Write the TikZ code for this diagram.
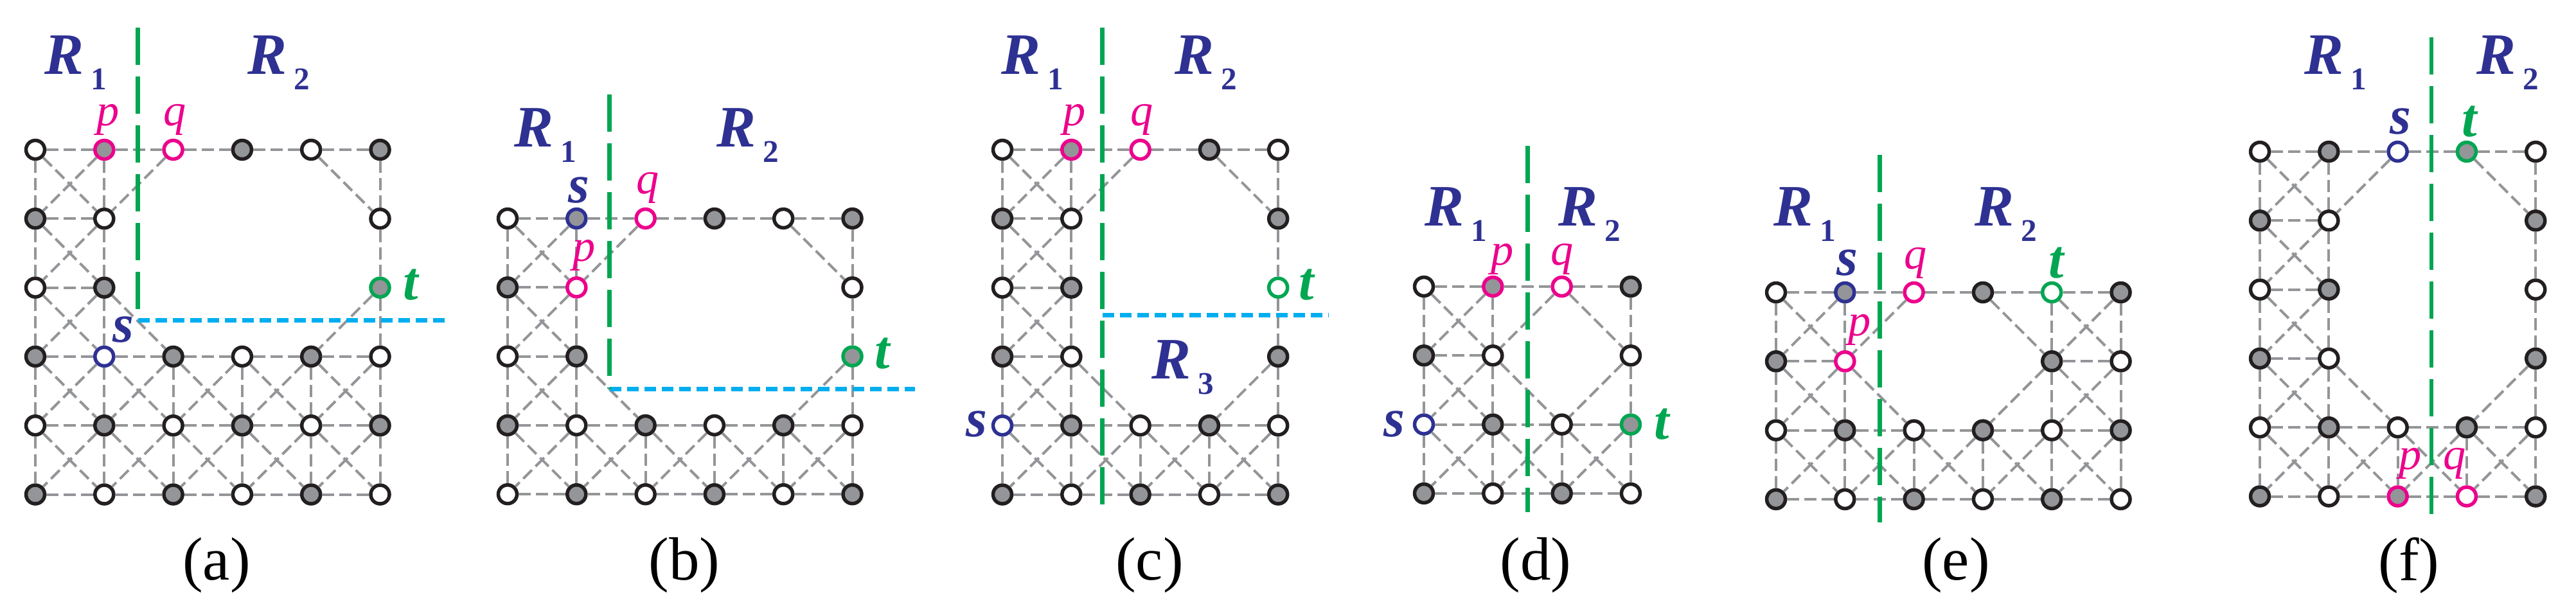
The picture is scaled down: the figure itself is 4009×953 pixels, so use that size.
\documentclass[tikz,border=0pt]{standalone}
\usepackage{fontspec}
\setmainfont{Liberation Serif}
\newfontfamily\ser{Liberation Serif}
\definecolor{navy}{HTML}{2E3192}
\definecolor{mag}{HTML}{EC008C}
\definecolor{grn}{HTML}{00A651}
\definecolor{blu}{HTML}{2E3192}
\definecolor{cyanline}{HTML}{00AEEF}
\definecolor{edgegray}{HTML}{939598}
\definecolor{nodegray}{HTML}{939598}
\definecolor{nodeblack}{HTML}{231F20}
\tikzset{
  vx/.style={circle,line width=0.055cm,minimum size=0.29cm,inner sep=0pt},
  edge/.style={draw=edgegray,line width=0.04cm,dash pattern=on 0.19cm off 0.08cm},
  cut/.style={draw=grn,line width=0.065cm,dash pattern=on 0.58cm off 0.18cm},
  cut2/.style={draw=cyanline,line width=0.07cm,dash pattern=on 0.18cm off 0.09cm},
  rlab/.style={text=navy,font=\ser\fontsize{26}{26}\selectfont\bfseries\itshape,anchor=base west,inner sep=0pt},
  plab/.style={text=mag,font=\ser\fontsize{20}{20}\selectfont\itshape,inner sep=0pt},
  slab/.style={text=navy,font=\ser\fontsize{24}{24}\selectfont\bfseries\itshape,inner sep=0pt},
  tlab/.style={text=grn,font=\ser\fontsize{24}{24}\selectfont\bfseries\itshape,inner sep=0pt},
  caplab/.style={font=\ser\fontsize{27}{27}\selectfont,inner sep=0pt},
}
\newcommand\Rsub[1]{R\kern3pt\raisebox{-7pt}{\fontsize{14}{14}\selectfont\upshape\bfseries #1}}
\newcommand\mkpanel[4]{%
  \foreach \cc/\rr/\kk in {#4}{%
    \pgfmathtruncatemacro\pp{mod(\cc+\rr,2)}%
    \ifnum\pp=1 \def\fc{nodegray}\else\def\fc{white}\fi
    \edef\tmp{\kk}\def\nn{n}%
    \ifx\tmp\nn\def\bc{nodeblack}\else\edef\bc{\kk}\fi
    \node[vx,draw=\bc,fill=\fc] (#1-\cc-\rr) at ({#2+\cc*107.3},{#3+\rr*107.3}) {};
    \expandafter\xdef\csname has#1-\cc-\rr\endcsname{1}%
  }%
  \foreach \cc/\rr/\kk in {#4}{%
    \foreach \dc/\dr in {1/0,0/1,1/1,-1/1}{%
      \pgfmathtruncatemacro\nc{\cc+\dc}%
      \pgfmathtruncatemacro\nr{\rr+\dr}%
      \ifcsname has#1-\nc-\nr\endcsname
        \draw[edge] (#1-\cc-\rr) -- (#1-\nc-\nr);
      \fi
    }%
  }%
}
\begin{document}
\begin{tikzpicture}[x=0.01cm,y=-0.01cm]
\useasboundingbox (0,0) rectangle (4009,953);
% (a)
\mkpanel{a}{55}{233}{0/0/n,1/0/mag,2/0/mag,3/0/n,4/0/n,5/0/n,
 0/1/n,1/1/n,5/1/n, 0/2/n,1/2/n,5/2/grn,
 0/3/n,1/3/blu,2/3/n,3/3/n,4/3/n,5/3/n,
 0/4/n,1/4/n,2/4/n,3/4/n,4/4/n,5/4/n,
 0/5/n,1/5/n,2/5/n,3/5/n,4/5/n,5/5/n}
% (b)
\mkpanel{b}{790}{340}{0/0/n,1/0/blu,2/0/mag,3/0/n,4/0/n,5/0/n,
 0/1/n,1/1/mag,5/1/n, 0/2/n,1/2/n,5/2/grn,
 0/3/n,1/3/n,2/3/n,3/3/n,4/3/n,5/3/n,
 0/4/n,1/4/n,2/4/n,3/4/n,4/4/n,5/4/n}
% (c)
\mkpanel{c}{1560}{233}{0/0/n,1/0/mag,2/0/mag,3/0/n,4/0/n,
 0/1/n,1/1/n,4/1/n, 0/2/n,1/2/n,4/2/grn, 0/3/n,1/3/n,4/3/n,
 0/4/blu,1/4/n,2/4/n,3/4/n,4/4/n,
 0/5/n,1/5/n,2/5/n,3/5/n,4/5/n}
% (d)
\mkpanel{d}{2216}{446}{0/0/n,1/0/mag,2/0/mag,3/0/n,
 0/1/n,1/1/n,3/1/n, 0/2/blu,1/2/n,2/2/n,3/2/grn,
 0/3/n,1/3/n,2/3/n,3/3/n}
% (e)
\mkpanel{e}{2764}{455}{0/0/n,1/0/blu,2/0/mag,3/0/n,4/0/grn,5/0/n,
 0/1/n,1/1/mag,4/1/n,5/1/n,
 0/2/n,1/2/n,2/2/n,3/2/n,4/2/n,5/2/n,
 0/3/n,1/3/n,2/3/n,3/3/n,4/3/n,5/3/n}
% (f)
\mkpanel{f}{3517}{236}{0/0/n,1/0/n,2/0/blu,3/0/grn,4/0/n,
 0/1/n,1/1/n,4/1/n, 0/2/n,1/2/n,4/2/n, 0/3/n,1/3/n,4/3/n,
 0/4/n,1/4/n,2/4/n,3/4/n,4/4/n,
 0/5/n,1/5/n,2/5/mag,3/5/mag,4/5/n}
% cut lines
\coordinate (ga1) at (214.6,43); \coordinate (ga2) at (214.6,498); \coordinate (ba2) at (694,498);
\draw[cut2] (ga2) -- (ba2); \draw[cut] (ga1) -- (ga2);
\coordinate (gb1) at (948.6,147); \coordinate (gb2) at (948.6,605); \coordinate (bb2) at (1423.5,605);
\draw[cut2] (gb2) -- (bb2); \draw[cut] (gb1) -- (gb2);
\coordinate (gc1) at (1715.6,43); \coordinate (gc2) at (1715.6,800);
\coordinate (bc1) at (1715.6,490.5); \coordinate (bc2) at (2068,490.5);
\draw[cut2] (bc1) -- (bc2); \draw[cut] (gc1) -- (gc2);
\coordinate (gd1) at (2377.7,227); \coordinate (gd2) at (2377.7,797); \draw[cut] (gd1) -- (gd2);
\coordinate (ge1) at (2925.4,241); \coordinate (ge2) at (2925.4,812.5); \draw[cut] (ge1) -- (ge2);
\coordinate (gf1) at (3783.7,58); \coordinate (gf2) at (3783.7,815.5); \draw[cut] (gf1) -- (gf2);
% region labels
\node[rlab] (aR1) at (69,115) {\Rsub1};
\node[rlab] (aR2) at (385,115) {\Rsub2};
\node[rlab] (bR1) at (800,228) {\Rsub1};
\node[rlab] (bR2) at (1115,228) {\Rsub2};
\node[rlab] (cR1) at (1558,115) {\Rsub1};
\node[rlab] (cR2) at (1828,115) {\Rsub2};
\node[rlab] (cR3) at (1792,589) {\Rsub3};
\node[rlab] (dR1) at (2217,351) {\Rsub1};
\node[rlab] (dR2) at (2425,351) {\Rsub2};
\node[rlab] (eR1) at (2760,351) {\Rsub1};
\node[rlab] (eR2) at (3073,351) {\Rsub2};
\node[rlab] (fR1) at (3586,115) {\Rsub1};
\node[rlab] (fR2) at (3854,115) {\Rsub2};
% vertex labels
\node[plab] (ap) at (168,186) {p}; \node[plab] (aq) at (272,186) {q};
\node[slab] (as) at (191.5,513) {s}; \node[tlab] (at) at (639,443) {t};
\node[slab] (bs) at (901,296) {s}; \node[plab] (bq) at (1007.7,292) {q};
\node[plab] (bp) at (909,397) {p}; \node[tlab] (bt) at (1373,550) {t};
\node[plab] (cp) at (1672,186) {p}; \node[plab] (cq) at (1776.6,186) {q};
\node[tlab] (ct) at (2033,443) {t}; \node[slab] (cs) at (1519.5,660) {s};
\node[plab] (dp) at (2338.5,403) {p}; \node[plab] (dq) at (2431,403) {q};
\node[slab] (ds) at (2170,660) {s}; \node[tlab] (dt) at (2586.5,660) {t};
\node[slab] (es) at (2875,409) {s}; \node[plab] (eq) at (2981,409) {q};
\node[tlab] (et) at (3200,409) {t}; \node[plab] (ep) at (2894,513) {p};
\node[slab] (fs) at (3735.7,189) {s}; \node[tlab] (ft) at (3843,189) {t};
\node[plab] (fp) at (3751,721) {p}; \node[plab] (fq) at (3819.6,721) {q};
% captions
\node[caplab] (capa) at (337,880) {(a)};
\node[caplab] (capb) at (1065,880) {(b)};
\node[caplab] (capc) at (1789,880) {(c)};
\node[caplab] (capd) at (2390,880) {(d)};
\node[caplab] (cape) at (3044,880) {(e)};
\node[caplab] (capf) at (3749,880) {(f)};
\end{tikzpicture}
\end{document}
